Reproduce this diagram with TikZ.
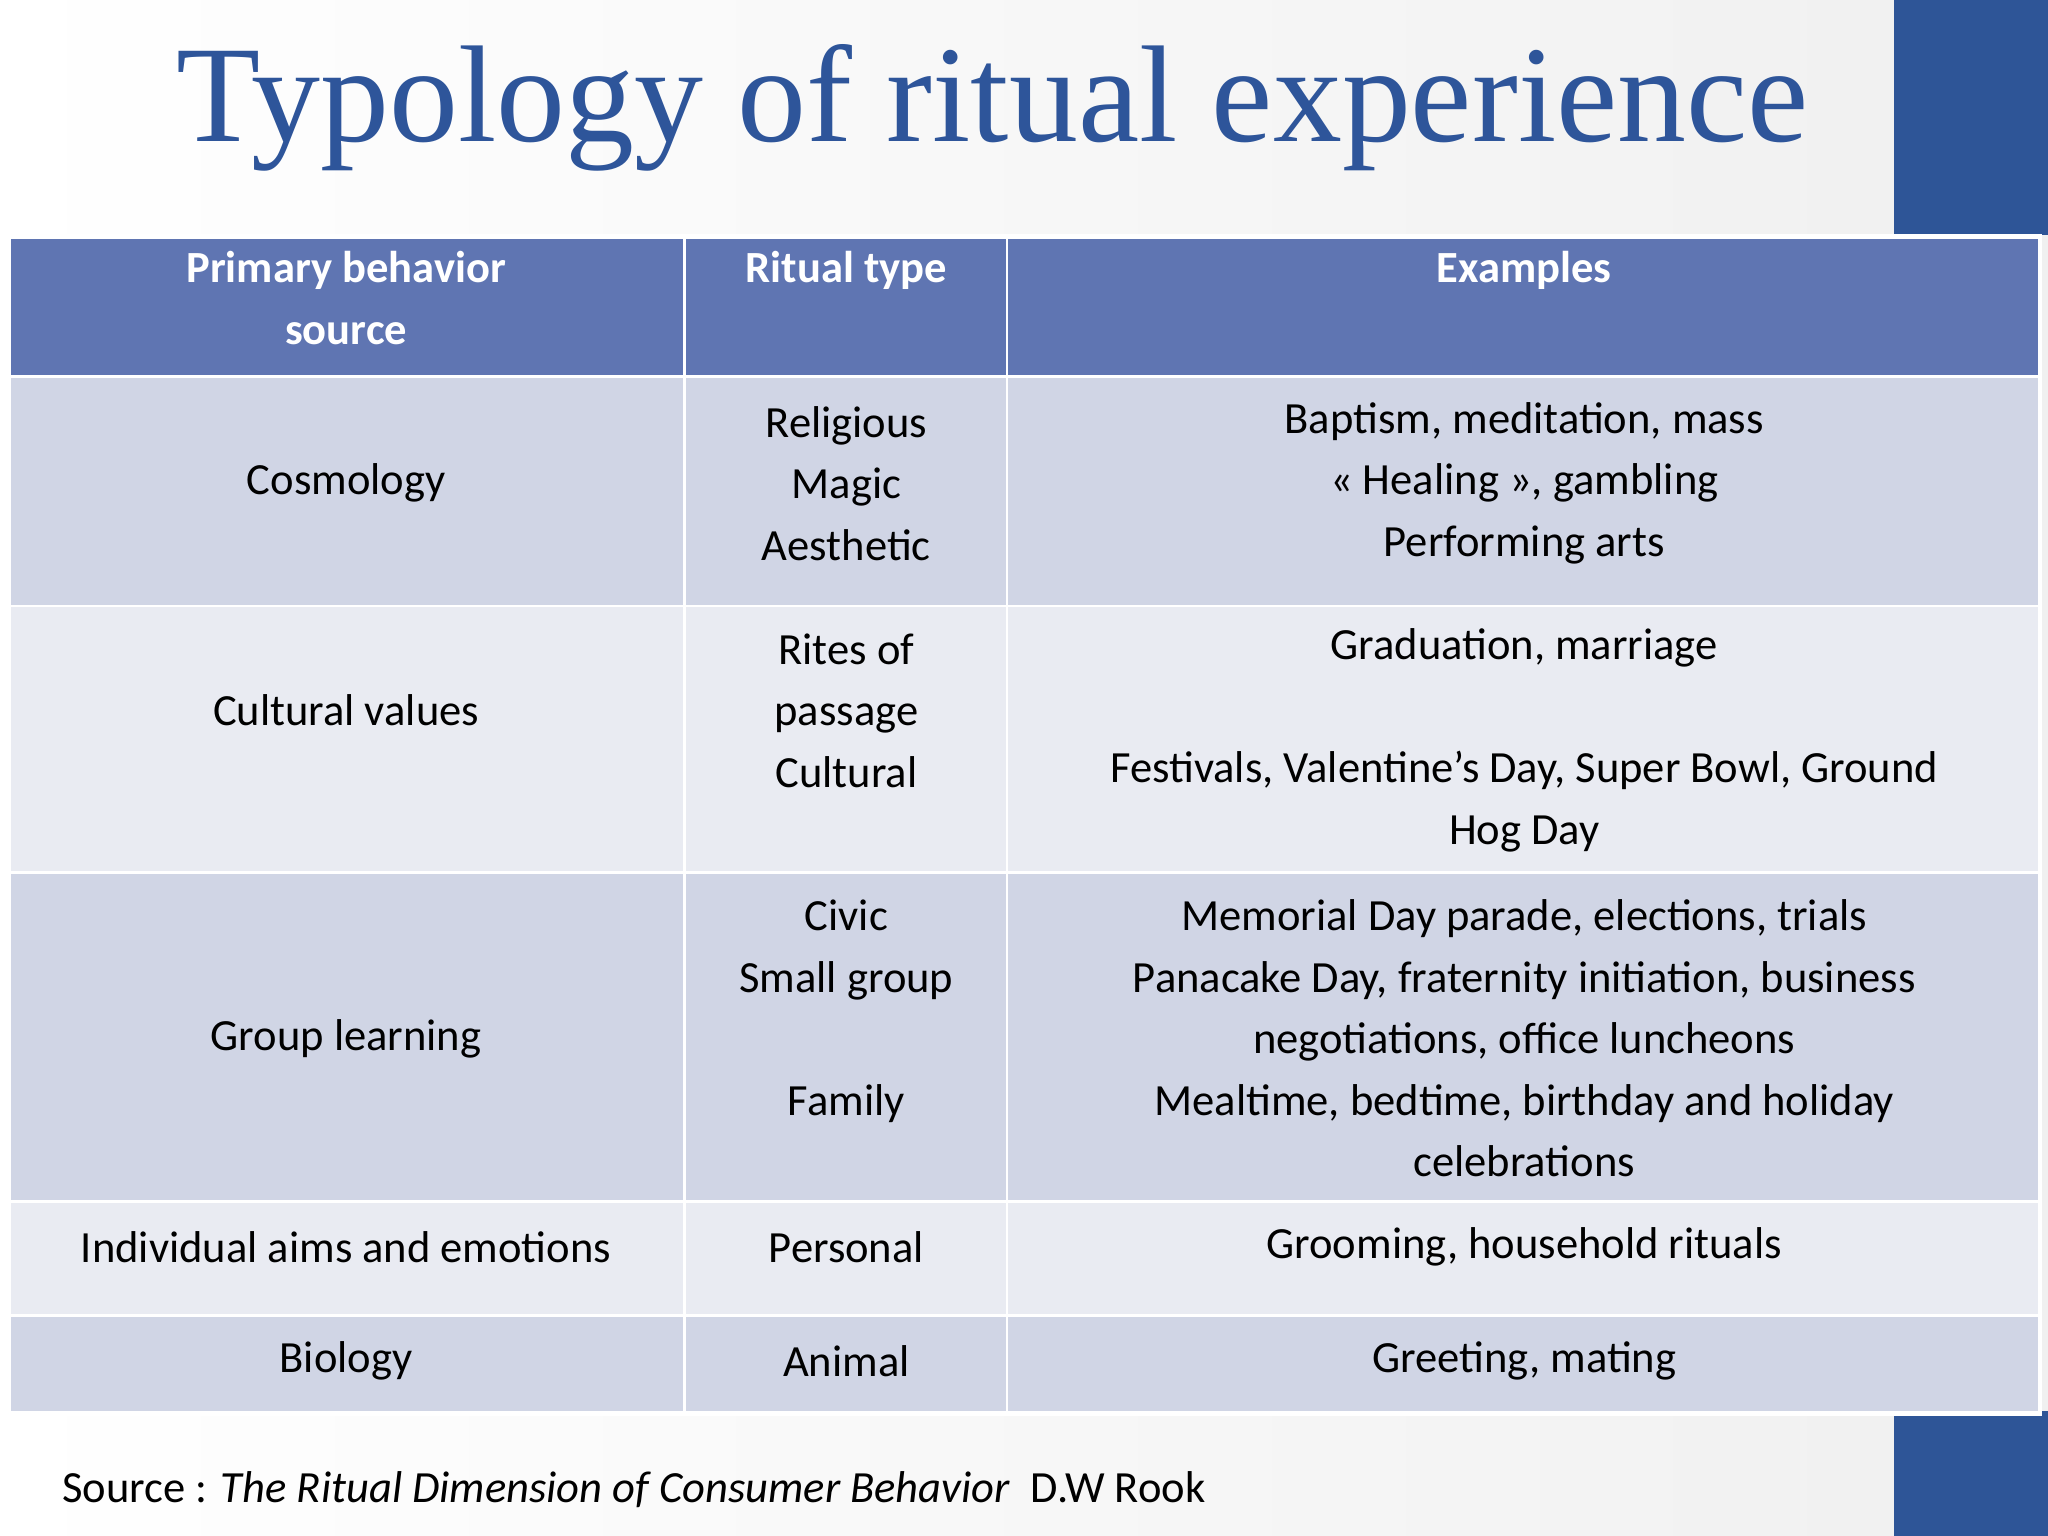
\documentclass[tikz,border=0pt]{standalone}
\usepackage{fontspec}
\setmainfont{Carlito}
\newfontfamily\titlefont{Liberation Serif}
\definecolor{hdr}{HTML}{5F75B2}
\definecolor{rowa}{HTML}{D0D5E5}
\definecolor{rowb}{HTML}{E9EBF2}
\definecolor{tblue}{HTML}{2E559A}
\definecolor{bar}{HTML}{2E5597}
\begin{document}
\begin{tikzpicture}[x=0.01cm,y=-0.01cm,
  cell/.style={draw=white,line width=0.6pt},
  txt/.style={align=center,font=\fontsize{9.7}{13.4}\selectfont,inner sep=0pt},
  htxt/.style={txt,text=white,font=\fontsize{9.7}{13.4}\selectfont\bfseries,anchor=north}]
\shade[left color=white,right color=black!6] (0,0) rectangle (1568,1176);
\useasboundingbox (0,0) rectangle (1568,1176);
\fill[bar] (1450,0) rectangle (1568,180);
\fill[bar] (1450,1080) rectangle (1568,1176);
\node[anchor=base,text=tblue,font=\titlefont\fontsize{30}{34}\selectfont] (title) at (760,108) {Typology of ritual experience};
% header
\fill[hdr,cell] (7,181) rectangle (524,288);
\fill[hdr,cell] (524,181) rectangle (771,288);
\fill[hdr,cell] (771,181) rectangle (1562,288);
\foreach \ya/\yb/\c in {288/464/rowa,464/668/rowb,668/920/rowa,920/1007/rowb,1007/1082/rowa}{
  \fill[\c,cell] (7,\ya) rectangle (524,\yb);
  \fill[\c,cell] (524,\ya) rectangle (771,\yb);
  \fill[\c,cell] (771,\ya) rectangle (1562,\yb);
}
\draw[white,line width=1pt] (7,181) rectangle (1562,1082);
\node[htxt] (h1) at (265,192) {Primary behavior\\source};
\node[htxt] (h2) at (648,192) {Ritual type};
\node[htxt] (h3) at (1167,192) {Examples};
% row1
\node[txt] (a1) at (265,370) {Cosmology};
\node[txt] (b1) at (648,370) {Religious\\Magic\\Aesthetic};
\node[txt] (c1) at (1167,370) {Baptism, meditation, mass\\« Healing », gambling\\Performing arts};
% row2
\node[txt] (a2) at (265,544) {Cultural values};
\node[txt] (b2) at (648,544) {Rites of\\passage\\Cultural};
\node[txt] (c2) at (1167,567) {Graduation, marriage\\\mbox{}\\Festivals, Valentine’s Day, Super Bowl, Ground\\Hog Day};
% row3
\node[txt] (a3) at (265,795) {Group learning};
\node[txt] (b3) at (648,795) {Civic\\Small group\\\mbox{}\\Family\\\mbox{}};
\node[txt] (c3) at (1167,795) {Memorial Day parade, elections, trials\\Panacake Day, fraternity initiation, business\\negotiations, office luncheons\\Mealtime, bedtime, birthday and holiday\\celebrations};
% row4
\node[txt] (a4) at (265,955) {Individual aims and emotions};
\node[txt] (b4) at (648,955) {Personal};
\node[txt] (c4) at (1167,955) {Grooming, household rituals};
% row5
\node[txt] (a5) at (265,1042) {Biology};
\node[txt] (b5) at (648,1042) {Animal};
\node[txt] (c5) at (1167,1042) {Greeting, mating};
\node[anchor=base west,inner sep=0pt,font=\fontsize{9.7}{13.4}\selectfont] (src) at (47,1150) {Source : \textit{The Ritual Dimension of Consumer Behavior}\ \ D.W Rook};
\end{tikzpicture}
\end{document}
